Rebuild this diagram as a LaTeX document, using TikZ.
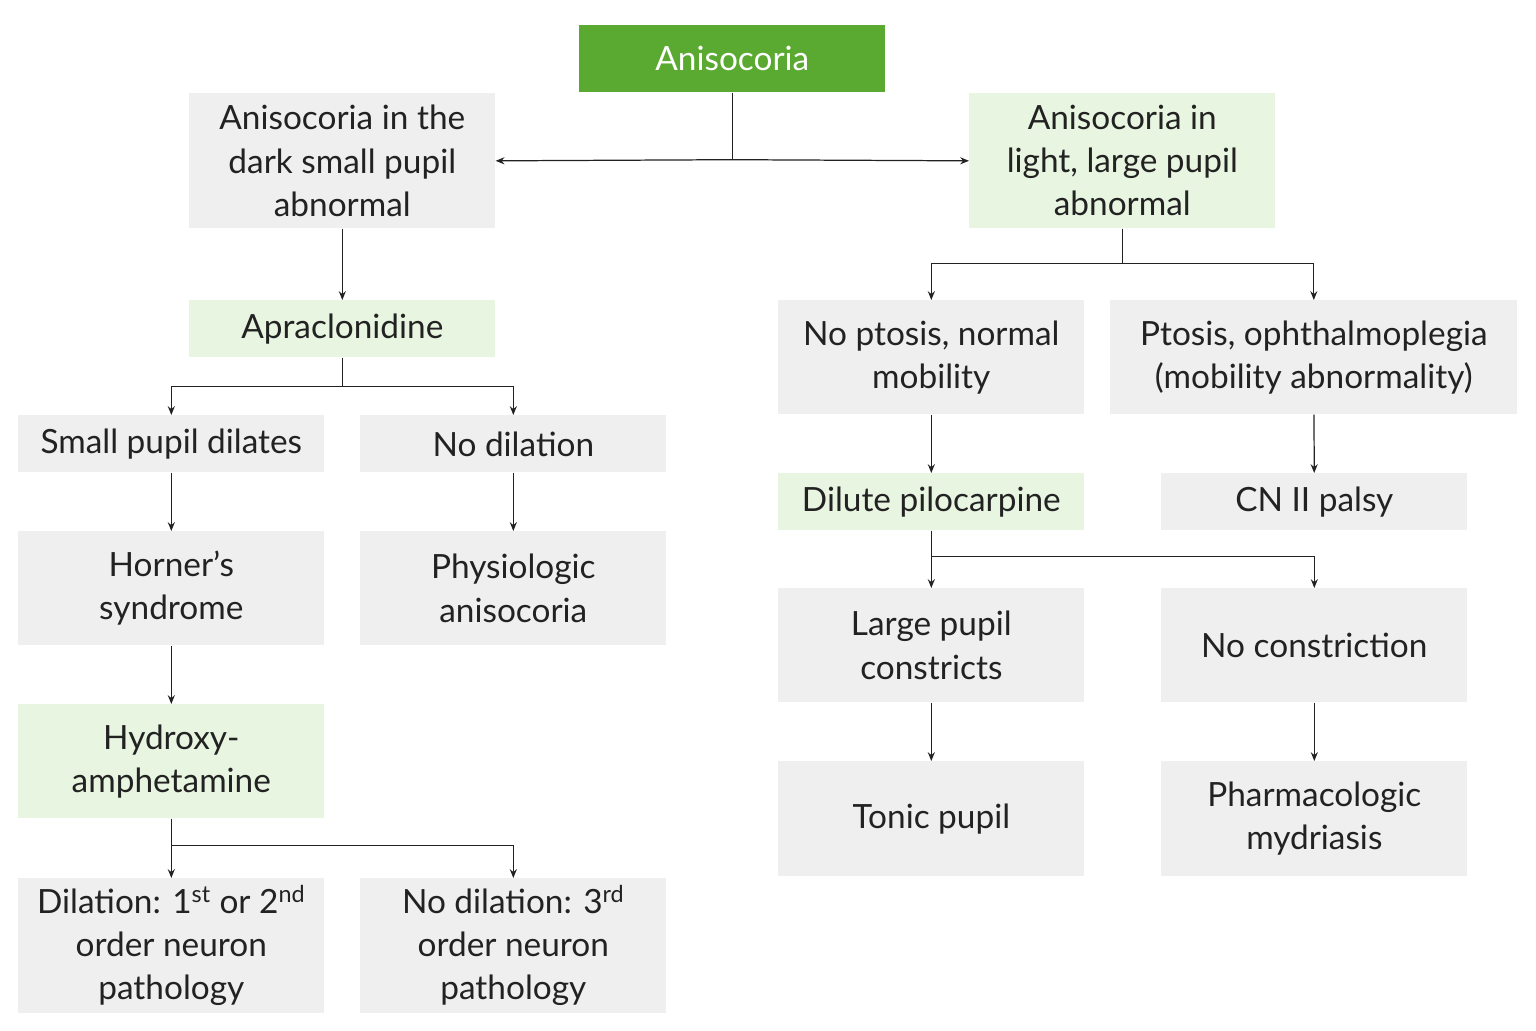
\documentclass[tikz,border=0pt]{standalone}
\usepackage{fontspec}
\setmainfont{Lato}
\usetikzlibrary{arrows.meta}
\definecolor{darkgreen}{HTML}{5AAA32}
\definecolor{palegreen}{HTML}{E8F5E0}
\definecolor{palegray}{HTML}{EFEFEF}
\definecolor{textgray}{HTML}{222222}
\tikzset{
  box/.style={anchor=north west,fill=palegray,inner sep=0pt,align=center,
    text=textgray,font=\fontsize{19}{24.5}\selectfont,minimum width=6.12cm},
  gbox/.style={box,fill=palegreen},
  hbox/.style={box,fill=darkgreen,text=white},
  arr/.style={-{Stealth[length=5pt,width=4pt]},line width=0.7pt,textgray}
}
\begin{document}
\begin{tikzpicture}[x=0.02cm,y=-0.02cm]
\useasboundingbox[fill=white] (0,0) rectangle (1536,1031);

% top level
\node[hbox,minimum height=1.34cm] (aniso) at (579,25) {Anisocoria};
\node[box,minimum height=2.7cm] (dark) at (189,93) {Anisocoria in the\\dark small pupil\\abnormal};
\node[gbox,minimum height=2.7cm] (light) at (969,93) {Anisocoria in\\light, large pupil\\abnormal};

% left branch
\node[gbox,minimum height=1.14cm] (apra) at (189,300) {Apraclonidine};
\node[box,minimum height=1.14cm] (small) at (18,415) {Small pupil dilates};
\node[box,minimum height=1.14cm] (nodil) at (360,415) {No dilation};
\node[box,minimum height=2.28cm] (horner) at (18,531) {Horner’s\\syndrome};
\node[box,minimum height=2.28cm] (physio) at (360,531) {Physiologic\\anisocoria};
\node[gbox,minimum height=2.28cm] (hydroxy) at (18,704) {Hydroxy-\\amphetamine};
\node[box,minimum height=2.7cm] (first) at (18,878) {Dilation: 1\textsuperscript{st} or 2\textsuperscript{nd}\\order neuron\\pathology};
\node[box,minimum height=2.7cm] (third) at (360,878) {No dilation: 3\textsuperscript{rd}\\order neuron\\pathology};

% right branch
\node[box,minimum height=2.28cm] (noptosis) at (778,300) {No ptosis, normal\\mobility};
\node[box,minimum height=2.28cm,minimum width=8.14cm] (ptosis) at (1110,300) {Ptosis, ophthalmoplegia\\(mobility abnormality)};
\node[gbox,minimum height=1.14cm] (pilo) at (778,473) {Dilute pilocarpine};
\node[box,minimum height=1.14cm] (cn) at (1161,473) {CN II palsy};
\node[box,minimum height=2.28cm] (large) at (778,588) {Large pupil\\constricts};
\node[box,minimum height=2.28cm] (nocon) at (1161,588) {No constriction};
\node[box,minimum height=2.3cm] (tonic) at (778,761) {Tonic pupil};
\node[box,minimum height=2.3cm] (pharma) at (1161,761) {Pharmacologic\\mydriasis};

% connectors
\draw[line width=0.7pt,textgray] (aniso.south) -- ++(0,67) coordinate (split);
\draw[arr] (split) -- (dark.east);
\draw[arr] (split) -- (light.west);
\draw[arr] (dark) -- (apra);
\draw[arr] (apra.south) -- ++(0,29) -| (small.north);
\draw[arr] (apra.south) -- ++(0,29) -| (nodil.north);
\draw[arr] (small) -- (horner);
\draw[arr] (nodil) -- (physio);
\draw[arr] (horner) -- (hydroxy);
\draw[arr] (hydroxy.south) -- ++(0,27) -| (first.north);
\draw[arr] (hydroxy.south) -- ++(0,27) -| (third.north);
\draw[arr] (light.south) -- ++(0,35) -| (noptosis.north);
\draw[arr] (light.south) -- ++(0,35) -| (ptosis.north);
\draw[arr] (noptosis) -- (pilo);
\draw[arr] (ptosis) -- (cn);
\draw[arr] (pilo.south) -- ++(0,26) -| (large.north);
\draw[arr] (pilo.south) -- ++(0,26) -| (nocon.north);
\draw[arr] (large) -- (tonic);
\draw[arr] (nocon) -- (pharma);
\end{tikzpicture}
\end{document}
